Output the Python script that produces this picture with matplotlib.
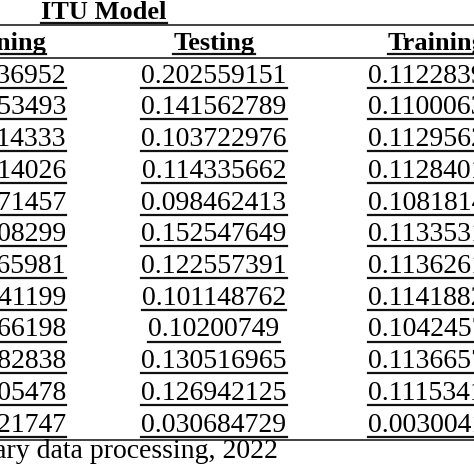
import matplotlib
matplotlib.use("Agg")
import matplotlib.pyplot as plt

plt.rcParams['font.family'] = ['Liberation Serif', 'DejaVu Serif']

title = "ITU Model"
headers = ["Training", "Testing", "Training"]
col_left = ["0.112136952", "0.110153493", "0.112514333", "0.112814026", "0.108371457",
            "0.113408299", "0.113665981", "0.114141199", "0.104366198", "0.113682838",
            "0.111505478", "0.003021747"]
col_mid = ["0.202559151", "0.141562789", "0.103722976", "0.114335662", "0.098462413",
           "0.152547649", "0.122557391", "0.101148762", "0.10200749", "0.130516965",
           "0.126942125", "0.030684729"]
col_right = ["0.112283912", "0.110006312", "0.112956241", "0.112840153", "0.108181432",
             "0.113353127", "0.113626154", "0.114188276", "0.104245718", "0.113665731",
             "0.111534182", "0.003004137"]
note = "Source: Primary data processing, 2022"

fig = plt.figure(figsize=(4.74, 4.74), dpi=100)
ax = fig.add_axes([0, 0, 1, 1])
ax.set_xlim(0, 474)
ax.set_ylim(474, 0)
ax.axis('off')

texts = []
texts.append(ax.text(104, 12, title, ha='center', va='center', fontsize=19, fontweight='bold'))
hx = [(46, 'right'), (214, 'center'), (388, 'left')]
for (x, ha), h in zip(hx, headers):
    texts.append(ax.text(x, 43, h, ha=ha, va='center', fontsize=19, fontweight='bold'))

row_y = [76 + i * 31.75 for i in range(len(col_mid))]
for y, a, b, c in zip(row_y, col_left, col_mid, col_right):
    texts.append(ax.text(66, y, a, ha='right', va='center', fontsize=20))
    texts.append(ax.text(214, y, b, ha='center', va='center', fontsize=20))
    texts.append(ax.text(368, y, c, ha='left', va='center', fontsize=20))

ax.text(278, 452, note, ha='right', va='center', fontsize=20)

# rules
for y in (25, 58, 440):
    ax.plot([0, 474], [y, y], color='#333333', lw=1.3)

# underlines
fig.canvas.draw()
r = fig.canvas.get_renderer()
inv = ax.transData.inverted()
for t in texts:
    bb = t.get_window_extent(r)
    x0, y0 = inv.transform((bb.x0, bb.y0))
    x1, _ = inv.transform((bb.x1, bb.y0))
    ax.plot([x0, x1], [y0 - 1, y0 - 1], color='#111111', lw=1.6)

fig.savefig("out.png", dpi=100)
